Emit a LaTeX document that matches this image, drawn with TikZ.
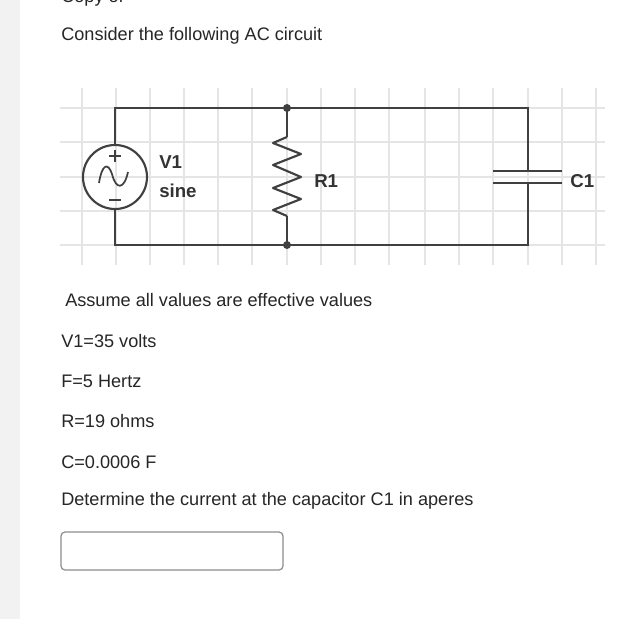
\documentclass[tikz,border=0pt]{standalone}
\usepackage{fontspec}
\setmainfont{Liberation Sans}
\begin{document}
\begin{tikzpicture}[x=0.75pt,y=-0.75pt,
  wire/.style={line width=1.6pt,draw=black!75},
  txt/.style={anchor=west,inner sep=0pt,font=\fontsize{13.6}{16}\selectfont,text=black!85},
  lbl/.style={anchor=west,inner sep=0pt,font=\fontsize{14}{16}\selectfont\bfseries,text=black!80},
  gridline/.style={draw=black!10,line width=0.8pt}]
\useasboundingbox (0,0) rectangle (620,619);
\fill[white] (0,0) rectangle (620,619);
\fill[black!5] (0,0) rectangle (20,619);
\begin{scope}
\clip (0,0) rectangle (620,619);
\node[txt] (copy) at (61,-2) {Copy of};
\end{scope}
\node[txt] (t0) at (61,36) {Consider the following AC circuit};
% grid
\foreach \x in {82,116,150,184,218,252,287,321,355,389,425,459,493,528,562,596}
  \draw[gridline] (\x,88) -- (\x,265);
\foreach \y in {108,142,177,211,245}
  \draw[gridline] (60,\y) -- (605,\y);
% nodes
\coordinate (tl) at (115,108);
\coordinate (bl) at (115,245);
\coordinate (tm) at (287,108);
\coordinate (bm) at (287,245);
\coordinate (tr) at (528,108);
\coordinate (br) at (528,245);
\node[circle,draw=black!75,line width=1.6pt,minimum size=64pt*0.75,inner sep=0pt] (V) at (115,177) {};
\coordinate (rt) at (287,137);
\coordinate (rb) at (287,216);
\coordinate (ct) at (528,171);
\coordinate (cb) at (528,183);
% wires
\draw[wire] (V.north) -- (tl) -- (tm) -- (tr) -- (ct);
\draw[wire] (V.south) -- (bl) -- (bm) -- (br) -- (cb);
\draw[wire] (tm) -- (rt);
\draw[wire] (bm) -- (rb);
\draw[wire,line join=round] (rt) -- (273,143) -- (301,154) -- (273,165) -- (301,177) -- (273,188) -- (301,199) -- (273,210) -- (rb);
\draw[wire] (493,171) -- (562,171);
\draw[wire] (493,183) -- (562,183);
\fill[black!75] (tm) circle (4);
\fill[black!75] (bm) circle (4);
% source symbols
\draw[wire,line width=1.3pt] (99,183) .. controls (102,164) and (108,162) .. (112,174) .. controls (116,190) and (124,190) .. (128,172);
\draw[line width=1.2pt,black!75] (109,156) -- (121,156) (115,150) -- (115,162);
\draw[line width=1.2pt,black!75] (109,200) -- (121,200);
\node[lbl] (v1) at (159,162) {V1};
\node[lbl] (sine) at (159,191) {sine};
\node[lbl] (r1) at (314,181) {R1};
\node[lbl] (c1) at (570,181) {C1};
% text
\node[txt] (t1) at (65,300) {Assume all values are effective values};
\node[txt] (t2) at (61,341) {V1=35 volts};
\node[txt] (t3) at (61,381) {F=5 Hertz};
\node[txt] (t4) at (61,421) {R=19 ohms};
\node[txt] (t5) at (61,462) {C=0.0006 F};
\node[txt] (t6) at (61,501) {Determine the current at the capacitor C1 in aperes};
\draw[black!45,line width=0.9pt,rounded corners=3] (61,532) rectangle (283,570);
\end{tikzpicture}
\end{document}
